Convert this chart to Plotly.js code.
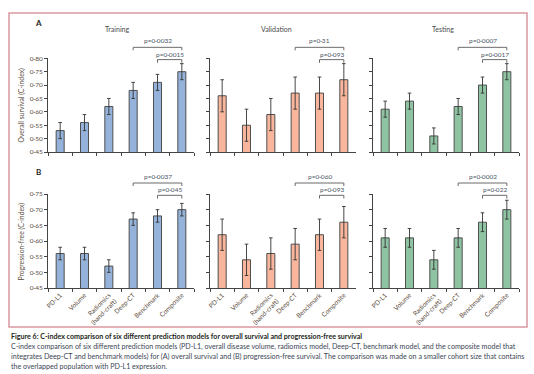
<!DOCTYPE html>
<html>
<head>
<meta charset="utf-8">
<script src="https://cdn.plot.ly/plotly-3.0.1.min.js"></script>
<style>html,body{margin:0;padding:0;background:#fff;}#chart{width:534px;height:374px;}</style>
</head>
<body>
<div id="chart"></div>
<script>
// ---- data ----
var categories = ['PD-L1', 'Volume', 'Radiomics<br>(hand-craft)', 'Deep-CT', 'Benchmark', 'Composite'];
var cohorts = ['Training', 'Validation', 'Testing'];

var osTrain = [0.53, 0.56, 0.62, 0.68, 0.71, 0.75];
var osTrainErr = [0.03, 0.03, 0.03, 0.03, 0.03, 0.03];
var osVal = [0.66, 0.55, 0.59, 0.67, 0.67, 0.72];
var osValErr = [0.06, 0.06, 0.06, 0.06, 0.06, 0.06];
var osTest = [0.61, 0.64, 0.51, 0.62, 0.70, 0.75];
var osTestErr = [0.03, 0.03, 0.03, 0.03, 0.03, 0.03];

var pfsTrain = [0.56, 0.56, 0.52, 0.67, 0.68, 0.70];
var pfsTrainErr = [0.02, 0.02, 0.02, 0.02, 0.02, 0.02];
var pfsVal = [0.62, 0.54, 0.56, 0.59, 0.62, 0.66];
var pfsValErr = [0.05, 0.05, 0.05, 0.05, 0.05, 0.05];
var pfsTest = [0.61, 0.61, 0.54, 0.61, 0.66, 0.70];
var pfsTestErr = [0.03, 0.03, 0.03, 0.03, 0.03, 0.03];

// p-values: [Deep-CT vs Composite, Benchmark vs Composite]
var osP = [['p=0·0032', 'p=0·0015'], ['p=0·31', 'p=0·093'], ['p=0·0007', 'p=0·0017']];
var pfsP = [['p=0·0037', 'p=0·045'], ['p=0·060', 'p=0·093'], ['p=0·0002', 'p=0·022']];

var osTickVals = [0.45, 0.50, 0.55, 0.60, 0.65, 0.70, 0.75, 0.80];
var osTickText = ['0·45', '0·50', '0·55', '0·60', '0·65', '0·70', '0·75', '0·80'];
var pfsTickVals = [0.45, 0.50, 0.55, 0.60, 0.65, 0.70, 0.75];
var pfsTickText = ['0·45', '0·50', '0·55', '0·60', '0·65', '0·70', '0·75'];

// ---- styling ----
var W = 534, H = 374;
var FONT = 'Lato, "Open Sans", sans-serif';
var axisText = '#5b4d40';
var fills = ['#95b3da', '#f9b69c', '#8fc4a3'];
function px(x) { return x / W; }
function py(y) { return 1 - y / H; }

var xDom = [[px(48), px(194)], [px(210), px(356)], [px(373), px(519)]];
var yDomA = [py(152), py(58.3)];
var yDomB = [py(288), py(194)];

var rows = [
  {vals: [osTrain, osVal, osTest], errs: [osTrainErr, osValErr, osTestErr], p: osP,
   dom: yDomA, range: [0.45, 0.80], tv: osTickVals, tt: osTickText, labels: false},
  {vals: [pfsTrain, pfsVal, pfsTest], errs: [pfsTrainErr, pfsValErr, pfsTestErr], p: pfsP,
   dom: yDomB, range: [0.45, 0.75], tv: pfsTickVals, tt: pfsTickText, labels: true}
];

var data = [];
var layout = {
  width: W, height: H,
  margin: {l: 0, r: 0, t: 0, b: 0},
  paper_bgcolor: '#ffffff', plot_bgcolor: 'rgba(0,0,0,0)',
  showlegend: false,
  font: {family: FONT, size: 7, color: axisText},
  shapes: [], annotations: []
};

var k = 0;
rows.forEach(function (row, r) {
  for (var c = 0; c < 3; c++) {
    k++;
    var xn = 'x' + (k === 1 ? '' : k), yn = 'y' + (k === 1 ? '' : k);
    data.push({
      type: 'bar', x: categories, y: row.vals[c], xaxis: xn, yaxis: yn,
      width: 0.33,
      marker: {color: fills[c], line: {color: '#4f4f4f', width: 1}},
      error_y: {type: 'data', array: row.errs[c], visible: true, color: '#333333', thickness: 0.9, width: 1.8},
      hoverinfo: 'skip'
    });
    layout['xaxis' + (k === 1 ? '' : k)] = {
      domain: xDom[c], anchor: yn, type: 'category', categoryarray: categories,
      range: [-0.5, 5.5], showline: true, linecolor: '#444', linewidth: 1,
      ticks: 'outside', ticklen: 3, tickcolor: '#444', tickwidth: 1, tickson: 'boundaries',
      showticklabels: row.labels, tickangle: -45,
      tickfont: {family: FONT, size: 6.5, color: axisText},
      showgrid: false, zeroline: false, fixedrange: true
    };
    layout['yaxis' + (k === 1 ? '' : k)] = {
      domain: row.dom, anchor: xn, range: row.range,
      tickmode: 'array', tickvals: row.tv, ticktext: row.tt,
      showticklabels: c === 0, ticks: 'outside', ticklen: 3, tickcolor: '#444', tickwidth: 1,
      showline: true, linecolor: '#444', linewidth: 1,
      tickfont: {family: FONT, size: 6.5, color: axisText},
      showgrid: false, zeroline: false, fixedrange: true
    };
    // significance brackets (Deep-CT vs Composite, Benchmark vs Composite)
    var br = [[3, 5, 1.117, 1.085, 1.19, row.p[c][0]], [4, 5, 0.986, 0.952, 1.045, row.p[c][1]]];
    br.forEach(function (b) {
      var st = {xref: xn, yref: yn + ' domain', type: 'line', line: {color: '#6b6b6b', width: 1}};
      layout.shapes.push(Object.assign({}, st, {x0: b[0], x1: b[1], y0: b[2], y1: b[2]}));
      layout.shapes.push(Object.assign({}, st, {x0: b[0], x1: b[0], y0: b[2], y1: b[3]}));
      layout.shapes.push(Object.assign({}, st, {x0: b[1], x1: b[1], y0: b[2], y1: b[3]}));
      layout.annotations.push({xref: xn, yref: yn + ' domain', x: (b[0] + b[1]) / 2, y: b[4],
        text: b[5], showarrow: false, xanchor: 'center', yanchor: 'middle',
        font: {family: FONT, size: 6.5, color: '#4a5566'}});
    });
  }
});

// cohort titles
var titleX = [117, 276, 443];
cohorts.forEach(function (t, i) {
  layout.annotations.push({xref: 'paper', yref: 'paper', x: px(titleX[i]), y: py(29), text: t,
    showarrow: false, xanchor: 'center', yanchor: 'middle', font: {family: FONT, size: 7, color: '#4a4a4a'}});
});
// panel letters
layout.annotations.push({xref: 'paper', yref: 'paper', x: px(38), y: py(23), text: '<b>A</b>',
  showarrow: false, xanchor: 'center', yanchor: 'middle', font: {family: FONT, size: 8, color: '#222'}});
layout.annotations.push({xref: 'paper', yref: 'paper', x: px(38), y: py(172), text: '<b>B</b>',
  showarrow: false, xanchor: 'center', yanchor: 'middle', font: {family: FONT, size: 8, color: '#222'}});
// y-axis titles
layout.annotations.push({xref: 'paper', yref: 'paper', x: px(20.5), y: py(105), text: 'Overall survival (C-index)',
  textangle: -90, showarrow: false, xanchor: 'center', yanchor: 'middle', font: {family: FONT, size: 6.8, color: axisText}});
layout.annotations.push({xref: 'paper', yref: 'paper', x: px(20.5), y: py(241), text: 'Progression-free (C-index)',
  textangle: -90, showarrow: false, xanchor: 'center', yanchor: 'middle', font: {family: FONT, size: 6.8, color: axisText}});

// frame
layout.shapes.push({xref: 'paper', yref: 'paper', type: 'rect', x0: px(9), x1: px(527), y0: py(327), y1: py(13),
  line: {color: '#dc98a2', width: 1.5}, fillcolor: 'rgba(0,0,0,0)'});

// caption
var captionLines = [
  '<b>Figure 6: C-index comparison of six different prediction models for overall survival and progression-free survival</b>',
  'C-index comparison of six different prediction models (PD-L1, overall disease volume, radiomics model, Deep-CT, benchmark model, and the composite model that',
  'integrates Deep-CT and benchmark models) for (A) overall survival and (B) progression-free survival. The comparison was made on a smaller cohort size that contains',
  'the overlapped population with PD-L1 expression.'
];
var capY = [336.7, 346.7, 356.7, 366.7];
var capSize = [7.1, 7.1, 7.15, 7.1];
captionLines.forEach(function (t, i) {
  layout.annotations.push({xref: 'paper', yref: 'paper', x: px(9), y: py(capY[i]), text: t,
    showarrow: false, xanchor: 'left', yanchor: 'middle',
    font: {family: FONT, size: capSize[i], color: i === 0 ? '#231f20' : '#3c4656'}});
});

Plotly.newPlot('chart', data, layout, {staticPlot: true, displayModeBar: false});
</script>
</body>
</html>
